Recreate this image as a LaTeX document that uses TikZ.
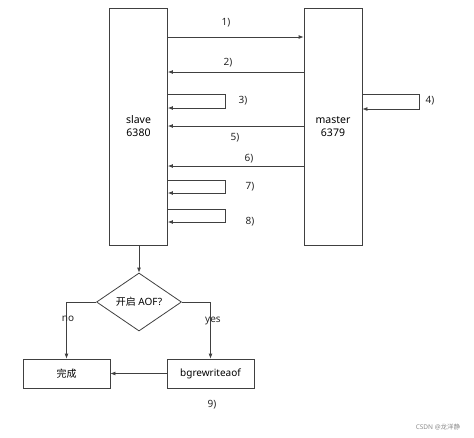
\documentclass[tikz,border=0pt]{standalone}
\usepackage{fontspec}
\setmainfont{Noto Sans}
\newfontfamily\cjk{Noto Sans CJK SC}
\usetikzlibrary{shapes.geometric,arrows.meta}
\begin{document}
\begin{tikzpicture}[x=1pt,y=-1pt,
  line/.style={draw=black!75,line width=0.8pt},
  arr/.style={line,-{Latex[length=5pt,width=4pt]}},
  box/.style={line,rectangle,inner sep=0pt},
  lbl/.style={font=\fontsize{10}{12}\selectfont,text=black!85,inner sep=0pt}]
\useasboundingbox (0,0) rectangle (474,437);
\node[box,minimum width=58pt,minimum height=237pt,align=center,font=\fontsize{10.5}{13}\selectfont] (slave) at (138.5,126.5) {slave\\6380};
\node[box,minimum width=58pt,minimum height=237pt,align=center,font=\fontsize{10.5}{13}\selectfont] (master) at (333,126.5) {master\\6379};
% 1)
\draw[arr] (slave.east |- 0,37) -- (master.west |- 0,37);
\node[lbl] (l1) at (226,23) {1)};
% 2)
\draw[arr] (master.west |- 0,72) -- (slave.east |- 0,72);
\node[lbl] (l2) at (228,63) {2)};
% 3)
\draw[arr] (slave.east |- 0,94) -- (225,94) -- (225,108) -- (slave.east |- 0,108);
\node[lbl] (l3) at (243,101) {3)};
% 4)
\draw[arr] (master.east |- 0,94) -- (419,94) -- (419,109) -- (master.east |- 0,109);
\node[lbl] (l4) at (430,101) {4)};
% 5)
\draw[arr] (master.west |- 0,126) -- (slave.east |- 0,126);
\node[lbl] (l5) at (235,138) {5)};
% 6)
\draw[arr] (master.west |- 0,166) -- (slave.east |- 0,166);
\node[lbl] (l6) at (249,159) {6)};
% 7)
\draw[arr] (slave.east |- 0,180) -- (225,180) -- (225,193) -- (slave.east |- 0,193);
\node[lbl] (l7) at (250,187) {7)};
% 8)
\draw[arr] (slave.east |- 0,209) -- (225,209) -- (225,222) -- (slave.east |- 0,222);
\node[lbl] (l8) at (250,222) {8)};
% flow
\node[line,diamond,minimum width=85pt,minimum height=58pt,inner sep=0pt,font=\fontsize{10}{12}\selectfont] (aof) at (139,302) {{\cjk 开启} AOF?};
\draw[arr] (slave.south -| aof.north) -- (aof.north);
\node[box,minimum width=87pt,minimum height=29pt,font=\cjk\fontsize{10}{12}\selectfont] (done) at (66.5,373.5) {完成};
\node[box,minimum width=87pt,minimum height=29pt,font=\fontsize{10}{12}\selectfont] (bgr) at (210.5,373.5) {bgrewriteaof};
\draw[arr] (aof.west) -| (done.north);
\draw[arr] (aof.east) -| (bgr.north);
\node[lbl] (no) at (68,319) {no};
\node[lbl] (yes) at (213,321) {yes};
\draw[arr] (bgr.west) -- (done.east);
\node[lbl] (l9) at (212,405) {9)};
\node[lbl,text=black!45,font=\fontsize{6.5}{8}\selectfont] (wm) at (438,427) {CSDN @{\cjk 龙洋静}};
\end{tikzpicture}
\end{document}
